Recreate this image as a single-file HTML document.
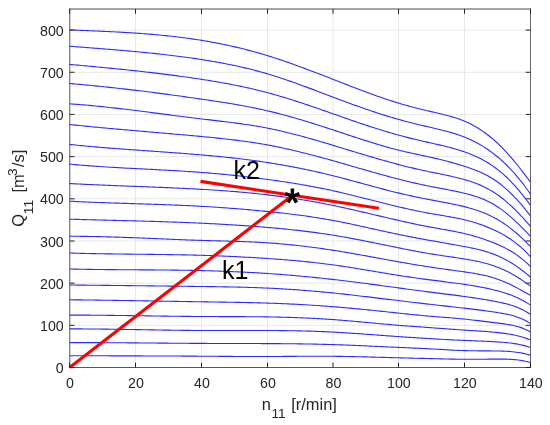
<!DOCTYPE html>
<html><head><meta charset="utf-8"><style>
html,body{margin:0;padding:0;background:#fff;}
body{width:550px;height:425px;overflow:hidden;}
svg{display:block;}
text{font-family:"Liberation Sans",sans-serif;fill:#262626;}
</style></head><body>
<svg width="550" height="425" viewBox="0 0 550 425">
<rect x="0" y="0" width="550" height="425" fill="#ffffff"/>
<g stroke="#e8e8e8" stroke-width="1" fill="none">
<line x1="135.5" y1="9.0" x2="135.5" y2="367.5"/>
<line x1="201.5" y1="9.0" x2="201.5" y2="367.5"/>
<line x1="267.5" y1="9.0" x2="267.5" y2="367.5"/>
<line x1="333.0" y1="9.0" x2="333.0" y2="367.5"/>
<line x1="398.5" y1="9.0" x2="398.5" y2="367.5"/>
<line x1="464.5" y1="9.0" x2="464.5" y2="367.5"/>
<line x1="69.7" y1="325.32" x2="530.5" y2="325.32"/>
<line x1="69.7" y1="283.15" x2="530.5" y2="283.15"/>
<line x1="69.7" y1="240.97" x2="530.5" y2="240.97"/>
<line x1="69.7" y1="198.80" x2="530.5" y2="198.80"/>
<line x1="69.7" y1="156.62" x2="530.5" y2="156.62"/>
<line x1="69.7" y1="114.44" x2="530.5" y2="114.44"/>
<line x1="69.7" y1="72.27" x2="530.5" y2="72.27"/>
<line x1="69.7" y1="30.09" x2="530.5" y2="30.09"/>
</g>
<g stroke="#2b2bff" stroke-width="1.1" fill="none" stroke-linejoin="round">
<polyline points="69.6,29.90 71.6,29.98 73.6,30.06 75.6,30.15 77.6,30.23 79.6,30.31 81.6,30.39 83.6,30.47 85.6,30.55 87.6,30.64 89.6,30.72 91.6,30.81 93.6,30.89 95.6,30.98 97.6,31.07 99.6,31.15 101.6,31.24 103.7,31.34 105.7,31.43 107.7,31.53 109.7,31.62 111.7,31.72 113.7,31.82 115.7,31.93 117.7,32.03 119.7,32.14 121.7,32.25 123.7,32.37 125.7,32.49 127.7,32.61 129.7,32.73 131.7,32.86 133.7,32.99 135.7,33.12 137.7,33.26 139.7,33.40 141.7,33.54 143.7,33.69 145.7,33.85 147.7,34.01 149.7,34.17 151.7,34.34 153.7,34.51 155.7,34.68 157.7,34.87 159.7,35.05 161.7,35.25 163.7,35.44 165.7,35.65 167.7,35.85 169.8,36.07 171.8,36.29 173.8,36.51 175.8,36.75 177.8,36.99 179.8,37.23 181.8,37.48 183.8,37.74 185.8,38.00 187.8,38.28 189.8,38.56 191.8,38.84 193.8,39.13 195.8,39.43 197.8,39.74 199.8,40.06 201.8,40.38 203.8,40.71 205.8,41.05 207.8,41.40 209.8,41.75 211.8,42.12 213.8,42.49 215.8,42.87 217.8,43.26 219.8,43.65 221.8,44.06 223.8,44.47 225.8,44.89 227.8,45.32 229.8,45.76 231.8,46.21 233.8,46.66 235.9,47.13 237.9,47.60 239.9,48.08 241.9,48.57 243.9,49.07 245.9,49.58 247.9,50.10 249.9,50.63 251.9,51.16 253.9,51.71 255.9,52.26 257.9,52.83 259.9,53.40 261.9,53.98 263.9,54.57 265.9,55.17 267.9,55.78 269.9,56.40 271.9,57.03 273.9,57.67 275.9,58.32 277.9,58.98 279.9,59.64 281.9,60.31 283.9,60.99 285.9,61.68 287.9,62.37 289.9,63.07 291.9,63.78 293.9,64.49 295.9,65.21 297.9,65.94 299.9,66.67 302.0,67.40 304.0,68.14 306.0,68.89 308.0,69.64 310.0,70.39 312.0,71.15 314.0,71.91 316.0,72.68 318.0,73.45 320.0,74.22 322.0,74.99 324.0,75.77 326.0,76.55 328.0,77.33 330.0,78.11 332.0,78.89 334.0,79.67 336.0,80.46 338.0,81.24 340.0,82.03 342.0,82.81 344.0,83.60 346.0,84.38 348.0,85.16 350.0,85.94 352.0,86.71 354.0,87.48 356.0,88.25 358.0,89.02 360.0,89.78 362.0,90.54 364.0,91.29 366.1,92.04 368.1,92.78 370.1,93.52 372.1,94.25 374.1,94.97 376.1,95.69 378.1,96.40 380.1,97.10 382.1,97.79 384.1,98.47 386.1,99.15 388.1,99.81 390.1,100.47 392.1,101.11 394.1,101.74 396.1,102.37 398.1,102.98 400.1,103.58 402.1,104.17 404.1,104.74 406.1,105.31 408.1,105.87 410.1,106.41 412.1,106.95 414.1,107.47 416.1,107.99 418.1,108.50 420.1,109.00 422.1,109.50 424.1,109.98 426.1,110.46 428.1,110.94 430.1,111.40 432.2,111.86 434.2,112.32 436.2,112.78 438.2,113.24 440.2,113.71 442.2,114.19 444.2,114.68 446.2,115.19 448.2,115.72 450.2,116.27 452.2,116.85 454.2,117.45 456.2,118.10 458.2,118.78 460.2,119.50 462.2,120.26 464.2,121.07 466.2,121.94 468.2,122.85 470.2,123.82 472.2,124.84 474.2,125.92 476.2,127.06 478.2,128.26 480.2,129.52 482.2,130.85 484.2,132.24 486.2,133.69 488.2,135.21 490.2,136.80 492.2,138.46 494.2,140.20 496.2,142.00 498.3,143.88 500.3,145.84 502.3,147.86 504.3,149.96 506.3,152.11 508.3,154.33 510.3,156.61 512.3,158.94 514.3,161.32 516.3,163.76 518.3,166.24 520.3,168.76 522.3,171.32 524.3,173.92 526.3,176.55 528.3,179.21 530.3,181.90"/>
<polyline points="69.6,46.20 71.6,46.36 73.6,46.52 75.6,46.68 77.6,46.83 79.6,46.99 81.6,47.15 83.6,47.31 85.6,47.46 87.6,47.62 89.6,47.78 91.6,47.93 93.6,48.09 95.6,48.25 97.6,48.41 99.6,48.57 101.6,48.73 103.7,48.89 105.7,49.05 107.7,49.21 109.7,49.37 111.7,49.54 113.7,49.70 115.7,49.87 117.7,50.04 119.7,50.21 121.7,50.38 123.7,50.55 125.7,50.73 127.7,50.90 129.7,51.08 131.7,51.26 133.7,51.44 135.7,51.63 137.7,51.81 139.7,52.00 141.7,52.20 143.7,52.39 145.7,52.59 147.7,52.79 149.7,52.99 151.7,53.20 153.7,53.41 155.7,53.62 157.7,53.83 159.7,54.05 161.7,54.27 163.7,54.50 165.7,54.73 167.7,54.96 169.8,55.20 171.8,55.44 173.8,55.68 175.8,55.93 177.8,56.19 179.8,56.44 181.8,56.70 183.8,56.97 185.8,57.24 187.8,57.52 189.8,57.80 191.8,58.08 193.8,58.37 195.8,58.66 197.8,58.96 199.8,59.27 201.8,59.58 203.8,59.89 205.8,60.21 207.8,60.54 209.8,60.87 211.8,61.21 213.8,61.56 215.8,61.91 217.8,62.27 219.8,62.63 221.8,63.01 223.8,63.39 225.8,63.77 227.8,64.17 229.8,64.57 231.8,64.98 233.8,65.40 235.9,65.83 237.9,66.27 239.9,66.71 241.9,67.17 243.9,67.63 245.9,68.10 247.9,68.58 249.9,69.08 251.9,69.58 253.9,70.09 255.9,70.61 257.9,71.15 259.9,71.69 261.9,72.25 263.9,72.81 265.9,73.39 267.9,73.98 269.9,74.58 271.9,75.19 273.9,75.81 275.9,76.44 277.9,77.09 279.9,77.74 281.9,78.40 283.9,79.07 285.9,79.75 287.9,80.43 289.9,81.13 291.9,81.83 293.9,82.53 295.9,83.25 297.9,83.97 299.9,84.69 302.0,85.42 304.0,86.16 306.0,86.89 308.0,87.64 310.0,88.38 312.0,89.13 314.0,89.88 316.0,90.64 318.0,91.40 320.0,92.15 322.0,92.91 324.0,93.67 326.0,94.43 328.0,95.19 330.0,95.95 332.0,96.71 334.0,97.46 336.0,98.22 338.0,98.97 340.0,99.72 342.0,100.47 344.0,101.22 346.0,101.96 348.0,102.70 350.0,103.44 352.0,104.17 354.0,104.90 356.0,105.62 358.0,106.34 360.0,107.05 362.0,107.76 364.0,108.46 366.1,109.16 368.1,109.85 370.1,110.53 372.1,111.21 374.1,111.88 376.1,112.54 378.1,113.20 380.1,113.85 382.1,114.49 384.1,115.12 386.1,115.74 388.1,116.36 390.1,116.96 392.1,117.56 394.1,118.15 396.1,118.72 398.1,119.29 400.1,119.84 402.1,120.39 404.1,120.92 406.1,121.45 408.1,121.97 410.1,122.48 412.1,122.98 414.1,123.48 416.1,123.97 418.1,124.46 420.1,124.94 422.1,125.42 424.1,125.89 426.1,126.36 428.1,126.83 430.1,127.30 432.2,127.77 434.2,128.24 436.2,128.71 438.2,129.18 440.2,129.67 442.2,130.16 444.2,130.67 446.2,131.19 448.2,131.73 450.2,132.29 452.2,132.87 454.2,133.48 456.2,134.12 458.2,134.78 460.2,135.48 462.2,136.21 464.2,136.98 466.2,137.79 468.2,138.64 470.2,139.54 472.2,140.47 474.2,141.46 476.2,142.49 478.2,143.57 480.2,144.71 482.2,145.89 484.2,147.13 486.2,148.42 488.2,149.78 490.2,151.19 492.2,152.66 494.2,154.19 496.2,155.78 498.3,157.45 500.3,159.17 502.3,160.97 504.3,162.83 506.3,164.76 508.3,166.77 510.3,168.85 512.3,171.00 514.3,173.23 516.3,175.53 518.3,177.91 520.3,180.37 522.3,182.91 524.3,185.53 526.3,188.24 528.3,191.03 530.3,193.90"/>
<polyline points="69.6,64.40 71.6,64.58 73.6,64.76 75.6,64.95 77.6,65.13 79.6,65.31 81.6,65.49 83.6,65.68 85.6,65.86 87.6,66.05 89.6,66.24 91.6,66.42 93.6,66.61 95.6,66.80 97.6,66.99 99.6,67.18 101.6,67.37 103.7,67.56 105.7,67.76 107.7,67.95 109.7,68.15 111.7,68.35 113.7,68.54 115.7,68.74 117.7,68.95 119.7,69.15 121.7,69.35 123.7,69.56 125.7,69.77 127.7,69.98 129.7,70.19 131.7,70.40 133.7,70.62 135.7,70.83 137.7,71.05 139.7,71.27 141.7,71.49 143.7,71.72 145.7,71.95 147.7,72.18 149.7,72.41 151.7,72.64 153.7,72.88 155.7,73.11 157.7,73.36 159.7,73.60 161.7,73.85 163.7,74.09 165.7,74.34 167.7,74.60 169.8,74.86 171.8,75.11 173.8,75.38 175.8,75.64 177.8,75.91 179.8,76.18 181.8,76.46 183.8,76.73 185.8,77.01 187.8,77.30 189.8,77.58 191.8,77.87 193.8,78.17 195.8,78.47 197.8,78.77 199.8,79.07 201.8,79.38 203.8,79.69 205.8,80.00 207.8,80.32 209.8,80.65 211.8,80.97 213.8,81.31 215.8,81.64 217.8,81.99 219.8,82.33 221.8,82.69 223.8,83.05 225.8,83.41 227.8,83.78 229.8,84.16 231.8,84.54 233.8,84.93 235.9,85.33 237.9,85.73 239.9,86.14 241.9,86.56 243.9,86.99 245.9,87.42 247.9,87.86 249.9,88.31 251.9,88.77 253.9,89.24 255.9,89.71 257.9,90.20 259.9,90.69 261.9,91.19 263.9,91.71 265.9,92.23 267.9,92.76 269.9,93.30 271.9,93.86 273.9,94.42 275.9,94.99 277.9,95.57 279.9,96.16 281.9,96.75 283.9,97.36 285.9,97.97 287.9,98.59 289.9,99.21 291.9,99.85 293.9,100.48 295.9,101.13 297.9,101.78 299.9,102.44 302.0,103.10 304.0,103.77 306.0,104.44 308.0,105.11 310.0,105.79 312.0,106.48 314.0,107.16 316.0,107.85 318.0,108.54 320.0,109.24 322.0,109.94 324.0,110.63 326.0,111.34 328.0,112.04 330.0,112.74 332.0,113.44 334.0,114.15 336.0,114.85 338.0,115.55 340.0,116.26 342.0,116.96 344.0,117.66 346.0,118.36 348.0,119.06 350.0,119.75 352.0,120.44 354.0,121.13 356.0,121.82 358.0,122.51 360.0,123.19 362.0,123.86 364.0,124.53 366.1,125.20 368.1,125.86 370.1,126.52 372.1,127.17 374.1,127.82 376.1,128.46 378.1,129.09 380.1,129.71 382.1,130.33 384.1,130.95 386.1,131.55 388.1,132.14 390.1,132.73 392.1,133.31 394.1,133.88 396.1,134.44 398.1,134.99 400.1,135.53 402.1,136.06 404.1,136.59 406.1,137.10 408.1,137.61 410.1,138.10 412.1,138.60 414.1,139.08 416.1,139.56 418.1,140.04 420.1,140.51 422.1,140.97 424.1,141.43 426.1,141.89 428.1,142.35 430.1,142.81 432.2,143.26 434.2,143.71 436.2,144.17 438.2,144.63 440.2,145.10 442.2,145.57 444.2,146.05 446.2,146.54 448.2,147.05 450.2,147.57 452.2,148.11 454.2,148.67 456.2,149.24 458.2,149.84 460.2,150.47 462.2,151.12 464.2,151.80 466.2,152.50 468.2,153.24 470.2,154.02 472.2,154.83 474.2,155.69 476.2,156.58 478.2,157.53 480.2,158.52 482.2,159.56 484.2,160.66 486.2,161.81 488.2,163.03 490.2,164.30 492.2,165.64 494.2,167.05 496.2,168.53 498.3,170.08 500.3,171.70 502.3,173.40 504.3,175.18 506.3,177.02 508.3,178.95 510.3,180.95 512.3,183.03 514.3,185.18 516.3,187.41 518.3,189.72 520.3,192.10 522.3,194.56 524.3,197.11 526.3,199.72 528.3,202.42 530.3,205.20"/>
<polyline points="69.6,83.50 71.6,83.67 73.6,83.84 75.6,84.02 77.6,84.20 79.6,84.38 81.6,84.56 83.6,84.75 85.6,84.93 87.6,85.12 89.6,85.32 91.6,85.51 93.6,85.71 95.6,85.91 97.6,86.11 99.6,86.31 101.6,86.52 103.7,86.73 105.7,86.94 107.7,87.15 109.7,87.36 111.7,87.58 113.7,87.80 115.7,88.02 117.7,88.24 119.7,88.47 121.7,88.69 123.7,88.92 125.7,89.15 127.7,89.39 129.7,89.62 131.7,89.86 133.7,90.10 135.7,90.34 137.7,90.58 139.7,90.82 141.7,91.07 143.7,91.32 145.7,91.57 147.7,91.82 149.7,92.07 151.7,92.32 153.7,92.58 155.7,92.84 157.7,93.10 159.7,93.36 161.7,93.62 163.7,93.88 165.7,94.15 167.7,94.42 169.8,94.69 171.8,94.96 173.8,95.23 175.8,95.50 177.8,95.78 179.8,96.05 181.8,96.33 183.8,96.61 185.8,96.89 187.8,97.17 189.8,97.45 191.8,97.74 193.8,98.02 195.8,98.31 197.8,98.59 199.8,98.88 201.8,99.17 203.8,99.46 205.8,99.76 207.8,100.05 209.8,100.35 211.8,100.65 213.8,100.95 215.8,101.25 217.8,101.56 219.8,101.87 221.8,102.18 223.8,102.50 225.8,102.82 227.8,103.14 229.8,103.47 231.8,103.81 233.8,104.15 235.9,104.49 237.9,104.84 239.9,105.20 241.9,105.56 243.9,105.93 245.9,106.31 247.9,106.69 249.9,107.08 251.9,107.47 253.9,107.88 255.9,108.29 257.9,108.71 259.9,109.14 261.9,109.58 263.9,110.02 265.9,110.48 267.9,110.94 269.9,111.41 271.9,111.90 273.9,112.39 275.9,112.89 277.9,113.40 279.9,113.92 281.9,114.44 283.9,114.97 285.9,115.52 287.9,116.06 289.9,116.62 291.9,117.18 293.9,117.75 295.9,118.33 297.9,118.91 299.9,119.50 302.0,120.09 304.0,120.70 306.0,121.30 308.0,121.91 310.0,122.53 312.0,123.15 314.0,123.77 316.0,124.40 318.0,125.04 320.0,125.68 322.0,126.32 324.0,126.96 326.0,127.61 328.0,128.26 330.0,128.92 332.0,129.57 334.0,130.23 336.0,130.89 338.0,131.55 340.0,132.22 342.0,132.88 344.0,133.55 346.0,134.21 348.0,134.88 350.0,135.54 352.0,136.20 354.0,136.86 356.0,137.52 358.0,138.17 360.0,138.82 362.0,139.47 364.0,140.12 366.1,140.75 368.1,141.39 370.1,142.02 372.1,142.64 374.1,143.26 376.1,143.87 378.1,144.47 380.1,145.06 382.1,145.65 384.1,146.23 386.1,146.80 388.1,147.36 390.1,147.91 392.1,148.45 394.1,148.98 396.1,149.49 398.1,150.00 400.1,150.49 402.1,150.98 404.1,151.45 406.1,151.92 408.1,152.37 410.1,152.82 412.1,153.27 414.1,153.71 416.1,154.14 418.1,154.58 420.1,155.01 422.1,155.45 424.1,155.88 426.1,156.32 428.1,156.76 430.1,157.21 432.2,157.66 434.2,158.12 436.2,158.59 438.2,159.06 440.2,159.55 442.2,160.04 444.2,160.54 446.2,161.05 448.2,161.57 450.2,162.11 452.2,162.65 454.2,163.21 456.2,163.78 458.2,164.37 460.2,164.96 462.2,165.58 464.2,166.20 466.2,166.85 468.2,167.51 470.2,168.20 472.2,168.91 474.2,169.65 476.2,170.43 478.2,171.25 480.2,172.12 482.2,173.03 484.2,173.99 486.2,175.00 488.2,176.08 490.2,177.22 492.2,178.43 494.2,179.71 496.2,181.07 498.3,182.51 500.3,184.02 502.3,185.62 504.3,187.30 506.3,189.05 508.3,190.88 510.3,192.79 512.3,194.76 514.3,196.81 516.3,198.94 518.3,201.13 520.3,203.39 522.3,205.72 524.3,208.12 526.3,210.58 528.3,213.11 530.3,215.70"/>
<polyline points="69.6,103.80 71.6,103.94 73.6,104.09 75.6,104.24 77.6,104.39 79.6,104.55 81.6,104.72 83.6,104.89 85.6,105.06 87.6,105.24 89.6,105.42 91.6,105.61 93.6,105.80 95.6,105.99 97.6,106.19 99.6,106.40 101.6,106.60 103.7,106.81 105.7,107.02 107.7,107.24 109.7,107.46 111.7,107.68 113.7,107.91 115.7,108.13 117.7,108.36 119.7,108.60 121.7,108.83 123.7,109.07 125.7,109.31 127.7,109.55 129.7,109.79 131.7,110.04 133.7,110.29 135.7,110.54 137.7,110.79 139.7,111.04 141.7,111.29 143.7,111.55 145.7,111.80 147.7,112.06 149.7,112.32 151.7,112.58 153.7,112.84 155.7,113.10 157.7,113.36 159.7,113.62 161.7,113.88 163.7,114.14 165.7,114.40 167.7,114.66 169.8,114.92 171.8,115.18 173.8,115.44 175.8,115.70 177.8,115.96 179.8,116.21 181.8,116.47 183.8,116.73 185.8,116.98 187.8,117.23 189.8,117.49 191.8,117.74 193.8,117.98 195.8,118.23 197.8,118.48 199.8,118.72 201.8,118.96 203.8,119.20 205.8,119.44 207.8,119.67 209.8,119.91 211.8,120.14 213.8,120.38 215.8,120.61 217.8,120.85 219.8,121.09 221.8,121.33 223.8,121.57 225.8,121.81 227.8,122.06 229.8,122.31 231.8,122.56 233.8,122.82 235.9,123.08 237.9,123.35 239.9,123.62 241.9,123.90 243.9,124.18 245.9,124.47 247.9,124.77 249.9,125.08 251.9,125.39 253.9,125.71 255.9,126.04 257.9,126.38 259.9,126.72 261.9,127.08 263.9,127.45 265.9,127.83 267.9,128.22 269.9,128.62 271.9,129.03 273.9,129.45 275.9,129.89 277.9,130.33 279.9,130.78 281.9,131.24 283.9,131.71 285.9,132.19 287.9,132.68 289.9,133.18 291.9,133.68 293.9,134.20 295.9,134.72 297.9,135.24 299.9,135.78 302.0,136.32 304.0,136.86 306.0,137.42 308.0,137.97 310.0,138.54 312.0,139.11 314.0,139.68 316.0,140.26 318.0,140.84 320.0,141.43 322.0,142.02 324.0,142.61 326.0,143.20 328.0,143.80 330.0,144.40 332.0,145.01 334.0,145.61 336.0,146.22 338.0,146.83 340.0,147.44 342.0,148.05 344.0,148.66 346.0,149.27 348.0,149.88 350.0,150.49 352.0,151.10 354.0,151.71 356.0,152.31 358.0,152.92 360.0,153.53 362.0,154.13 364.0,154.73 366.1,155.33 368.1,155.93 370.1,156.52 372.1,157.11 374.1,157.70 376.1,158.28 378.1,158.86 380.1,159.44 382.1,160.01 384.1,160.58 386.1,161.14 388.1,161.70 390.1,162.25 392.1,162.79 394.1,163.33 396.1,163.87 398.1,164.40 400.1,164.92 402.1,165.43 404.1,165.94 406.1,166.44 408.1,166.93 410.1,167.42 412.1,167.90 414.1,168.37 416.1,168.84 418.1,169.30 420.1,169.75 422.1,170.20 424.1,170.64 426.1,171.08 428.1,171.50 430.1,171.92 432.2,172.34 434.2,172.75 436.2,173.15 438.2,173.55 440.2,173.96 442.2,174.36 444.2,174.77 446.2,175.19 448.2,175.61 450.2,176.05 452.2,176.49 454.2,176.95 456.2,177.42 458.2,177.92 460.2,178.43 462.2,178.96 464.2,179.51 466.2,180.10 468.2,180.70 470.2,181.34 472.2,182.02 474.2,182.73 476.2,183.48 478.2,184.27 480.2,185.12 482.2,186.01 484.2,186.95 486.2,187.95 488.2,189.01 490.2,190.13 492.2,191.31 494.2,192.56 496.2,193.88 498.3,195.28 500.3,196.75 502.3,198.29 504.3,199.91 506.3,201.59 508.3,203.33 510.3,205.14 512.3,207.01 514.3,208.93 516.3,210.92 518.3,212.96 520.3,215.05 522.3,217.18 524.3,219.37 526.3,221.61 528.3,223.88 530.3,226.20"/>
<polyline points="69.6,124.50 71.6,124.71 73.6,124.92 75.6,125.13 77.6,125.34 79.6,125.54 81.6,125.75 83.6,125.95 85.6,126.15 87.6,126.35 89.6,126.54 91.6,126.74 93.6,126.93 95.6,127.12 97.6,127.31 99.6,127.50 101.6,127.69 103.7,127.87 105.7,128.06 107.7,128.24 109.7,128.43 111.7,128.61 113.7,128.79 115.7,128.97 117.7,129.15 119.7,129.33 121.7,129.50 123.7,129.68 125.7,129.86 127.7,130.03 129.7,130.21 131.7,130.38 133.7,130.55 135.7,130.73 137.7,130.90 139.7,131.07 141.7,131.24 143.7,131.42 145.7,131.59 147.7,131.76 149.7,131.93 151.7,132.10 153.7,132.27 155.7,132.45 157.7,132.62 159.7,132.79 161.7,132.96 163.7,133.14 165.7,133.31 167.7,133.48 169.8,133.66 171.8,133.83 173.8,134.01 175.8,134.18 177.8,134.36 179.8,134.54 181.8,134.71 183.8,134.89 185.8,135.07 187.8,135.25 189.8,135.43 191.8,135.62 193.8,135.80 195.8,135.99 197.8,136.17 199.8,136.36 201.8,136.55 203.8,136.74 205.8,136.93 207.8,137.12 209.8,137.32 211.8,137.52 213.8,137.72 215.8,137.92 217.8,138.13 219.8,138.34 221.8,138.55 223.8,138.77 225.8,138.99 227.8,139.22 229.8,139.45 231.8,139.68 233.8,139.92 235.9,140.17 237.9,140.42 239.9,140.68 241.9,140.94 243.9,141.21 245.9,141.48 247.9,141.76 249.9,142.05 251.9,142.35 253.9,142.65 255.9,142.97 257.9,143.29 259.9,143.61 261.9,143.95 263.9,144.29 265.9,144.65 267.9,145.01 269.9,145.38 271.9,145.76 273.9,146.15 275.9,146.55 277.9,146.96 279.9,147.37 281.9,147.80 283.9,148.23 285.9,148.67 287.9,149.11 289.9,149.57 291.9,150.03 293.9,150.50 295.9,150.97 297.9,151.45 299.9,151.94 302.0,152.43 304.0,152.93 306.0,153.44 308.0,153.95 310.0,154.46 312.0,154.98 314.0,155.51 316.0,156.04 318.0,156.58 320.0,157.12 322.0,157.66 324.0,158.21 326.0,158.76 328.0,159.31 330.0,159.87 332.0,160.43 334.0,161.00 336.0,161.57 338.0,162.14 340.0,162.71 342.0,163.28 344.0,163.86 346.0,164.43 348.0,165.01 350.0,165.59 352.0,166.17 354.0,166.75 356.0,167.33 358.0,167.91 360.0,168.49 362.0,169.06 364.0,169.64 366.1,170.22 368.1,170.79 370.1,171.36 372.1,171.93 374.1,172.50 376.1,173.06 378.1,173.62 380.1,174.18 382.1,174.73 384.1,175.28 386.1,175.83 388.1,176.37 390.1,176.91 392.1,177.44 394.1,177.96 396.1,178.48 398.1,179.00 400.1,179.51 402.1,180.01 404.1,180.50 406.1,180.99 408.1,181.48 410.1,181.95 412.1,182.42 414.1,182.88 416.1,183.34 418.1,183.79 420.1,184.23 422.1,184.67 424.1,185.09 426.1,185.51 428.1,185.93 430.1,186.33 432.2,186.73 434.2,187.12 436.2,187.50 438.2,187.89 440.2,188.26 442.2,188.64 444.2,189.02 446.2,189.41 448.2,189.79 450.2,190.19 452.2,190.59 454.2,191.00 456.2,191.41 458.2,191.85 460.2,192.29 462.2,192.75 464.2,193.23 466.2,193.72 468.2,194.24 470.2,194.78 472.2,195.35 474.2,195.96 476.2,196.60 478.2,197.28 480.2,198.01 482.2,198.79 484.2,199.62 486.2,200.51 488.2,201.45 490.2,202.46 492.2,203.54 494.2,204.69 496.2,205.92 498.3,207.23 500.3,208.61 502.3,210.07 504.3,211.60 506.3,213.19 508.3,214.85 510.3,216.57 512.3,218.34 514.3,220.17 516.3,222.04 518.3,223.95 520.3,225.90 522.3,227.89 524.3,229.90 526.3,231.95 528.3,234.01 530.3,236.10"/>
<polyline points="69.6,144.40 71.6,144.61 73.6,144.82 75.6,145.03 77.6,145.23 79.6,145.43 81.6,145.63 83.6,145.82 85.6,146.01 87.6,146.20 89.6,146.38 91.6,146.56 93.6,146.74 95.6,146.92 97.6,147.09 99.6,147.26 101.6,147.43 103.7,147.59 105.7,147.76 107.7,147.92 109.7,148.08 111.7,148.24 113.7,148.39 115.7,148.55 117.7,148.70 119.7,148.85 121.7,149.00 123.7,149.15 125.7,149.30 127.7,149.44 129.7,149.59 131.7,149.73 133.7,149.88 135.7,150.02 137.7,150.16 139.7,150.31 141.7,150.45 143.7,150.59 145.7,150.73 147.7,150.87 149.7,151.01 151.7,151.15 153.7,151.29 155.7,151.43 157.7,151.57 159.7,151.71 161.7,151.86 163.7,152.00 165.7,152.14 167.7,152.28 169.8,152.43 171.8,152.58 173.8,152.72 175.8,152.87 177.8,153.02 179.8,153.17 181.8,153.32 183.8,153.48 185.8,153.63 187.8,153.79 189.8,153.95 191.8,154.11 193.8,154.27 195.8,154.44 197.8,154.60 199.8,154.77 201.8,154.94 203.8,155.12 205.8,155.29 207.8,155.47 209.8,155.66 211.8,155.84 213.8,156.03 215.8,156.22 217.8,156.41 219.8,156.61 221.8,156.81 223.8,157.02 225.8,157.22 227.8,157.44 229.8,157.65 231.8,157.87 233.8,158.09 235.9,158.32 237.9,158.55 239.9,158.79 241.9,159.03 243.9,159.27 245.9,159.52 247.9,159.78 249.9,160.04 251.9,160.30 253.9,160.57 255.9,160.84 257.9,161.12 259.9,161.40 261.9,161.69 263.9,161.99 265.9,162.29 267.9,162.59 269.9,162.90 271.9,163.22 273.9,163.54 275.9,163.87 277.9,164.21 279.9,164.55 281.9,164.89 283.9,165.25 285.9,165.60 287.9,165.97 289.9,166.34 291.9,166.71 293.9,167.09 295.9,167.48 297.9,167.87 299.9,168.27 302.0,168.68 304.0,169.09 306.0,169.51 308.0,169.93 310.0,170.36 312.0,170.79 314.0,171.23 316.0,171.68 318.0,172.13 320.0,172.59 322.0,173.06 324.0,173.53 326.0,174.01 328.0,174.49 330.0,174.98 332.0,175.47 334.0,175.98 336.0,176.48 338.0,177.00 340.0,177.52 342.0,178.04 344.0,178.57 346.0,179.10 348.0,179.63 350.0,180.17 352.0,180.71 354.0,181.26 356.0,181.80 358.0,182.35 360.0,182.89 362.0,183.44 364.0,183.99 366.1,184.54 368.1,185.08 370.1,185.63 372.1,186.17 374.1,186.71 376.1,187.25 378.1,187.79 380.1,188.32 382.1,188.85 384.1,189.38 386.1,189.90 388.1,190.41 390.1,190.93 392.1,191.43 394.1,191.93 396.1,192.42 398.1,192.90 400.1,193.38 402.1,193.85 404.1,194.31 406.1,194.77 408.1,195.22 410.1,195.66 412.1,196.09 414.1,196.52 416.1,196.94 418.1,197.36 420.1,197.77 422.1,198.17 424.1,198.57 426.1,198.97 428.1,199.35 430.1,199.74 432.2,200.12 434.2,200.49 436.2,200.86 438.2,201.24 440.2,201.61 442.2,201.98 444.2,202.36 446.2,202.74 448.2,203.13 450.2,203.52 452.2,203.93 454.2,204.34 456.2,204.77 458.2,205.21 460.2,205.66 462.2,206.14 464.2,206.63 466.2,207.13 468.2,207.66 470.2,208.22 472.2,208.80 474.2,209.41 476.2,210.05 478.2,210.72 480.2,211.44 482.2,212.19 484.2,212.98 486.2,213.82 488.2,214.71 490.2,215.64 492.2,216.63 494.2,217.67 496.2,218.77 498.3,219.93 500.3,221.15 502.3,222.43 504.3,223.77 506.3,225.17 508.3,226.63 510.3,228.14 512.3,229.71 514.3,231.35 516.3,233.03 518.3,234.78 520.3,236.58 522.3,238.43 524.3,240.34 526.3,242.31 528.3,244.33 530.3,246.40"/>
<polyline points="69.6,164.10 71.6,164.29 73.6,164.48 75.6,164.67 77.6,164.84 79.6,165.02 81.6,165.19 83.6,165.35 85.6,165.52 87.6,165.67 89.6,165.83 91.6,165.98 93.6,166.13 95.6,166.27 97.6,166.41 99.6,166.54 101.6,166.68 103.7,166.81 105.7,166.94 107.7,167.06 109.7,167.19 111.7,167.31 113.7,167.42 115.7,167.54 117.7,167.65 119.7,167.77 121.7,167.88 123.7,167.99 125.7,168.09 127.7,168.20 129.7,168.31 131.7,168.41 133.7,168.51 135.7,168.62 137.7,168.72 139.7,168.82 141.7,168.92 143.7,169.02 145.7,169.12 147.7,169.22 149.7,169.32 151.7,169.42 153.7,169.52 155.7,169.63 157.7,169.73 159.7,169.83 161.7,169.94 163.7,170.04 165.7,170.15 167.7,170.26 169.8,170.37 171.8,170.48 173.8,170.59 175.8,170.71 177.8,170.83 179.8,170.94 181.8,171.07 183.8,171.19 185.8,171.32 187.8,171.45 189.8,171.58 191.8,171.71 193.8,171.85 195.8,171.99 197.8,172.14 199.8,172.29 201.8,172.44 203.8,172.59 205.8,172.75 207.8,172.92 209.8,173.08 211.8,173.25 213.8,173.43 215.8,173.61 217.8,173.79 219.8,173.97 221.8,174.16 223.8,174.35 225.8,174.55 227.8,174.75 229.8,174.95 231.8,175.16 233.8,175.37 235.9,175.58 237.9,175.80 239.9,176.02 241.9,176.25 243.9,176.48 245.9,176.71 247.9,176.94 249.9,177.18 251.9,177.42 253.9,177.67 255.9,177.92 257.9,178.17 259.9,178.42 261.9,178.68 263.9,178.95 265.9,179.21 267.9,179.48 269.9,179.75 271.9,180.03 273.9,180.31 275.9,180.59 277.9,180.88 279.9,181.17 281.9,181.47 283.9,181.77 285.9,182.07 287.9,182.38 289.9,182.69 291.9,183.01 293.9,183.33 295.9,183.66 297.9,183.99 299.9,184.33 302.0,184.67 304.0,185.02 306.0,185.37 308.0,185.73 310.0,186.10 312.0,186.47 314.0,186.84 316.0,187.22 318.0,187.61 320.0,188.01 322.0,188.41 324.0,188.82 326.0,189.23 328.0,189.65 330.0,190.08 332.0,190.51 334.0,190.96 336.0,191.40 338.0,191.86 340.0,192.32 342.0,192.79 344.0,193.26 346.0,193.74 348.0,194.22 350.0,194.71 352.0,195.20 354.0,195.70 356.0,196.19 358.0,196.69 360.0,197.20 362.0,197.70 364.0,198.21 366.1,198.72 368.1,199.23 370.1,199.73 372.1,200.24 374.1,200.75 376.1,201.26 378.1,201.77 380.1,202.28 382.1,202.78 384.1,203.28 386.1,203.78 388.1,204.28 390.1,204.77 392.1,205.26 394.1,205.75 396.1,206.23 398.1,206.71 400.1,207.18 402.1,207.64 404.1,208.10 406.1,208.56 408.1,209.00 410.1,209.45 412.1,209.88 414.1,210.31 416.1,210.73 418.1,211.14 420.1,211.55 422.1,211.94 424.1,212.33 426.1,212.71 428.1,213.09 430.1,213.45 432.2,213.80 434.2,214.15 436.2,214.49 438.2,214.82 440.2,215.16 442.2,215.49 444.2,215.83 446.2,216.17 448.2,216.51 450.2,216.87 452.2,217.23 454.2,217.60 456.2,217.99 458.2,218.40 460.2,218.82 462.2,219.26 464.2,219.73 466.2,220.22 468.2,220.73 470.2,221.27 472.2,221.84 474.2,222.43 476.2,223.05 478.2,223.70 480.2,224.39 482.2,225.10 484.2,225.84 486.2,226.62 488.2,227.43 490.2,228.28 492.2,229.16 494.2,230.08 496.2,231.03 498.3,232.02 500.3,233.06 502.3,234.14 504.3,235.27 506.3,236.45 508.3,237.70 510.3,239.01 512.3,240.38 514.3,241.83 516.3,243.36 518.3,244.97 520.3,246.66 522.3,248.45 524.3,250.33 526.3,252.32 528.3,254.40 530.3,256.60"/>
<polyline points="69.6,183.50 71.6,183.61 73.6,183.72 75.6,183.83 77.6,183.94 79.6,184.04 81.6,184.14 83.6,184.24 85.6,184.34 87.6,184.44 89.6,184.53 91.6,184.62 93.6,184.72 95.6,184.81 97.6,184.89 99.6,184.98 101.6,185.07 103.7,185.15 105.7,185.24 107.7,185.32 109.7,185.40 111.7,185.48 113.7,185.56 115.7,185.64 117.7,185.72 119.7,185.80 121.7,185.88 123.7,185.95 125.7,186.03 127.7,186.11 129.7,186.18 131.7,186.26 133.7,186.34 135.7,186.41 137.7,186.49 139.7,186.56 141.7,186.64 143.7,186.71 145.7,186.79 147.7,186.87 149.7,186.95 151.7,187.02 153.7,187.10 155.7,187.18 157.7,187.26 159.7,187.34 161.7,187.42 163.7,187.50 165.7,187.59 167.7,187.67 169.8,187.76 171.8,187.84 173.8,187.93 175.8,188.02 177.8,188.11 179.8,188.20 181.8,188.29 183.8,188.39 185.8,188.49 187.8,188.58 189.8,188.69 191.8,188.79 193.8,188.89 195.8,189.00 197.8,189.11 199.8,189.22 201.8,189.33 203.8,189.44 205.8,189.56 207.8,189.68 209.8,189.80 211.8,189.93 213.8,190.06 215.8,190.19 217.8,190.32 219.8,190.46 221.8,190.60 223.8,190.74 225.8,190.88 227.8,191.03 229.8,191.19 231.8,191.34 233.8,191.50 235.9,191.67 237.9,191.84 239.9,192.01 241.9,192.18 243.9,192.36 245.9,192.55 247.9,192.73 249.9,192.93 251.9,193.12 253.9,193.33 255.9,193.53 257.9,193.74 259.9,193.96 261.9,194.18 263.9,194.40 265.9,194.64 267.9,194.87 269.9,195.11 271.9,195.36 273.9,195.61 275.9,195.87 277.9,196.13 279.9,196.40 281.9,196.67 283.9,196.95 285.9,197.23 287.9,197.52 289.9,197.81 291.9,198.11 293.9,198.42 295.9,198.73 297.9,199.04 299.9,199.36 302.0,199.69 304.0,200.02 306.0,200.36 308.0,200.70 310.0,201.05 312.0,201.40 314.0,201.76 316.0,202.12 318.0,202.49 320.0,202.87 322.0,203.25 324.0,203.63 326.0,204.03 328.0,204.42 330.0,204.82 332.0,205.23 334.0,205.65 336.0,206.06 338.0,206.49 340.0,206.92 342.0,207.35 344.0,207.79 346.0,208.23 348.0,208.68 350.0,209.12 352.0,209.58 354.0,210.03 356.0,210.49 358.0,210.95 360.0,211.42 362.0,211.88 364.0,212.35 366.1,212.82 368.1,213.29 370.1,213.76 372.1,214.23 374.1,214.70 376.1,215.17 378.1,215.65 380.1,216.12 382.1,216.59 384.1,217.06 386.1,217.53 388.1,218.00 390.1,218.46 392.1,218.93 394.1,219.39 396.1,219.85 398.1,220.31 400.1,220.76 402.1,221.21 404.1,221.66 406.1,222.11 408.1,222.55 410.1,222.98 412.1,223.41 414.1,223.84 416.1,224.26 418.1,224.68 420.1,225.09 422.1,225.49 424.1,225.89 426.1,226.28 428.1,226.66 430.1,227.04 432.2,227.41 434.2,227.78 436.2,228.13 438.2,228.49 440.2,228.84 442.2,229.20 444.2,229.55 446.2,229.91 448.2,230.27 450.2,230.64 452.2,231.02 454.2,231.41 456.2,231.80 458.2,232.21 460.2,232.63 462.2,233.07 464.2,233.53 466.2,234.01 468.2,234.50 470.2,235.01 472.2,235.55 474.2,236.11 476.2,236.69 478.2,237.29 480.2,237.92 482.2,238.57 484.2,239.25 486.2,239.95 488.2,240.68 490.2,241.44 492.2,242.22 494.2,243.03 496.2,243.88 498.3,244.75 500.3,245.65 502.3,246.60 504.3,247.58 506.3,248.62 508.3,249.70 510.3,250.84 512.3,252.05 514.3,253.32 516.3,254.66 518.3,256.07 520.3,257.56 522.3,259.14 524.3,260.81 526.3,262.57 528.3,264.44 530.3,266.40"/>
<polyline points="69.6,201.20 71.6,201.30 73.6,201.41 75.6,201.50 77.6,201.60 79.6,201.70 81.6,201.79 83.6,201.88 85.6,201.96 87.6,202.05 89.6,202.13 91.6,202.21 93.6,202.29 95.6,202.37 97.6,202.45 99.6,202.52 101.6,202.60 103.7,202.67 105.7,202.74 107.7,202.81 109.7,202.88 111.7,202.95 113.7,203.01 115.7,203.08 117.7,203.14 119.7,203.21 121.7,203.27 123.7,203.34 125.7,203.40 127.7,203.46 129.7,203.52 131.7,203.59 133.7,203.65 135.7,203.71 137.7,203.77 139.7,203.83 141.7,203.90 143.7,203.96 145.7,204.02 147.7,204.09 149.7,204.15 151.7,204.22 153.7,204.28 155.7,204.35 157.7,204.42 159.7,204.49 161.7,204.56 163.7,204.63 165.7,204.70 167.7,204.77 169.8,204.85 171.8,204.93 173.8,205.01 175.8,205.09 177.8,205.17 179.8,205.25 181.8,205.34 183.8,205.43 185.8,205.52 187.8,205.61 189.8,205.70 191.8,205.80 193.8,205.90 195.8,206.00 197.8,206.11 199.8,206.22 201.8,206.33 203.8,206.44 205.8,206.56 207.8,206.68 209.8,206.80 211.8,206.93 213.8,207.05 215.8,207.18 217.8,207.32 219.8,207.45 221.8,207.59 223.8,207.74 225.8,207.88 227.8,208.03 229.8,208.18 231.8,208.33 233.8,208.49 235.9,208.65 237.9,208.81 239.9,208.97 241.9,209.14 243.9,209.31 245.9,209.48 247.9,209.66 249.9,209.84 251.9,210.02 253.9,210.20 255.9,210.39 257.9,210.58 259.9,210.77 261.9,210.96 263.9,211.16 265.9,211.36 267.9,211.56 269.9,211.77 271.9,211.97 273.9,212.18 275.9,212.40 277.9,212.61 279.9,212.83 281.9,213.06 283.9,213.29 285.9,213.52 287.9,213.75 289.9,213.99 291.9,214.24 293.9,214.48 295.9,214.74 297.9,215.00 299.9,215.26 302.0,215.53 304.0,215.80 306.0,216.08 308.0,216.36 310.0,216.65 312.0,216.95 314.0,217.25 316.0,217.56 318.0,217.87 320.0,218.19 322.0,218.52 324.0,218.85 326.0,219.19 328.0,219.54 330.0,219.90 332.0,220.26 334.0,220.63 336.0,221.01 338.0,221.39 340.0,221.78 342.0,222.18 344.0,222.59 346.0,222.99 348.0,223.41 350.0,223.83 352.0,224.25 354.0,224.68 356.0,225.11 358.0,225.54 360.0,225.98 362.0,226.42 364.0,226.86 366.1,227.31 368.1,227.75 370.1,228.20 372.1,228.64 374.1,229.09 376.1,229.54 378.1,229.98 380.1,230.43 382.1,230.87 384.1,231.31 386.1,231.75 388.1,232.19 390.1,232.62 392.1,233.05 394.1,233.48 396.1,233.90 398.1,234.32 400.1,234.73 402.1,235.14 404.1,235.54 406.1,235.94 408.1,236.34 410.1,236.73 412.1,237.11 414.1,237.50 416.1,237.88 418.1,238.25 420.1,238.63 422.1,239.00 424.1,239.36 426.1,239.73 428.1,240.09 430.1,240.45 432.2,240.81 434.2,241.16 436.2,241.51 438.2,241.87 440.2,242.22 442.2,242.57 444.2,242.92 446.2,243.28 448.2,243.63 450.2,243.99 452.2,244.34 454.2,244.70 456.2,245.06 458.2,245.43 460.2,245.80 462.2,246.17 464.2,246.54 466.2,246.92 468.2,247.31 470.2,247.71 472.2,248.12 474.2,248.55 476.2,248.99 478.2,249.46 480.2,249.96 482.2,250.48 484.2,251.03 486.2,251.62 488.2,252.25 490.2,252.91 492.2,253.62 494.2,254.38 496.2,255.18 498.3,256.04 500.3,256.95 502.3,257.92 504.3,258.94 506.3,260.01 508.3,261.13 510.3,262.31 512.3,263.54 514.3,264.82 516.3,266.16 518.3,267.55 520.3,268.99 522.3,270.49 524.3,272.04 526.3,273.64 528.3,275.29 530.3,277.00"/>
<polyline points="69.6,219.20 71.6,219.26 73.6,219.31 75.6,219.36 77.6,219.42 79.6,219.47 81.6,219.52 83.6,219.58 85.6,219.63 87.6,219.68 89.6,219.73 91.6,219.78 93.6,219.83 95.6,219.88 97.6,219.94 99.6,219.99 101.6,220.04 103.7,220.09 105.7,220.14 107.7,220.19 109.7,220.24 111.7,220.29 113.7,220.34 115.7,220.39 117.7,220.44 119.7,220.49 121.7,220.54 123.7,220.59 125.7,220.64 127.7,220.70 129.7,220.75 131.7,220.80 133.7,220.85 135.7,220.91 137.7,220.96 139.7,221.02 141.7,221.07 143.7,221.13 145.7,221.19 147.7,221.25 149.7,221.30 151.7,221.36 153.7,221.42 155.7,221.49 157.7,221.55 159.7,221.61 161.7,221.67 163.7,221.74 165.7,221.81 167.7,221.87 169.8,221.94 171.8,222.01 173.8,222.08 175.8,222.15 177.8,222.23 179.8,222.30 181.8,222.38 183.8,222.46 185.8,222.54 187.8,222.62 189.8,222.70 191.8,222.78 193.8,222.87 195.8,222.95 197.8,223.04 199.8,223.13 201.8,223.22 203.8,223.32 205.8,223.41 207.8,223.51 209.8,223.61 211.8,223.71 213.8,223.81 215.8,223.92 217.8,224.02 219.8,224.13 221.8,224.24 223.8,224.36 225.8,224.47 227.8,224.59 229.8,224.71 231.8,224.83 233.8,224.96 235.9,225.08 237.9,225.21 239.9,225.34 241.9,225.48 243.9,225.61 245.9,225.75 247.9,225.89 249.9,226.04 251.9,226.18 253.9,226.33 255.9,226.48 257.9,226.64 259.9,226.79 261.9,226.95 263.9,227.12 265.9,227.28 267.9,227.45 269.9,227.62 271.9,227.80 273.9,227.97 275.9,228.15 277.9,228.34 279.9,228.53 281.9,228.72 283.9,228.91 285.9,229.11 287.9,229.31 289.9,229.52 291.9,229.73 293.9,229.95 295.9,230.17 297.9,230.39 299.9,230.62 302.0,230.85 304.0,231.09 306.0,231.33 308.0,231.58 310.0,231.83 312.0,232.09 314.0,232.36 316.0,232.63 318.0,232.90 320.0,233.18 322.0,233.47 324.0,233.76 326.0,234.06 328.0,234.36 330.0,234.67 332.0,234.99 334.0,235.31 336.0,235.64 338.0,235.98 340.0,236.32 342.0,236.67 344.0,237.02 346.0,237.38 348.0,237.75 350.0,238.11 352.0,238.49 354.0,238.86 356.0,239.24 358.0,239.63 360.0,240.02 362.0,240.41 364.0,240.80 366.1,241.20 368.1,241.60 370.1,242.00 372.1,242.40 374.1,242.81 376.1,243.22 378.1,243.62 380.1,244.03 382.1,244.44 384.1,244.85 386.1,245.26 388.1,245.67 390.1,246.08 392.1,246.49 394.1,246.90 396.1,247.31 398.1,247.72 400.1,248.12 402.1,248.53 404.1,248.93 406.1,249.33 408.1,249.72 410.1,250.12 412.1,250.50 414.1,250.89 416.1,251.27 418.1,251.64 420.1,252.01 422.1,252.37 424.1,252.73 426.1,253.08 428.1,253.42 430.1,253.76 432.2,254.09 434.2,254.41 436.2,254.72 438.2,255.03 440.2,255.33 442.2,255.63 444.2,255.93 446.2,256.22 448.2,256.52 450.2,256.81 452.2,257.11 454.2,257.40 456.2,257.70 458.2,258.01 460.2,258.32 462.2,258.63 464.2,258.95 466.2,259.28 468.2,259.62 470.2,259.97 472.2,260.33 474.2,260.71 476.2,261.11 478.2,261.54 480.2,261.98 482.2,262.46 484.2,262.96 486.2,263.49 488.2,264.06 490.2,264.66 492.2,265.31 494.2,265.99 496.2,266.72 498.3,267.49 500.3,268.31 502.3,269.17 504.3,270.08 506.3,271.04 508.3,272.04 510.3,273.09 512.3,274.19 514.3,275.33 516.3,276.52 518.3,277.75 520.3,279.03 522.3,280.35 524.3,281.72 526.3,283.14 528.3,284.60 530.3,286.10"/>
<polyline points="69.6,236.30 71.6,236.30 73.6,236.30 75.6,236.30 77.6,236.31 79.6,236.32 81.6,236.34 83.6,236.36 85.6,236.38 87.6,236.41 89.6,236.44 91.6,236.47 93.6,236.51 95.6,236.54 97.6,236.59 99.6,236.63 101.6,236.68 103.7,236.73 105.7,236.78 107.7,236.84 109.7,236.89 111.7,236.95 113.7,237.02 115.7,237.08 117.7,237.15 119.7,237.21 121.7,237.28 123.7,237.35 125.7,237.43 127.7,237.50 129.7,237.58 131.7,237.65 133.7,237.73 135.7,237.81 137.7,237.89 139.7,237.97 141.7,238.06 143.7,238.14 145.7,238.22 147.7,238.31 149.7,238.39 151.7,238.47 153.7,238.56 155.7,238.64 157.7,238.73 159.7,238.81 161.7,238.90 163.7,238.98 165.7,239.07 167.7,239.15 169.8,239.23 171.8,239.32 173.8,239.40 175.8,239.48 177.8,239.56 179.8,239.64 181.8,239.72 183.8,239.79 185.8,239.87 187.8,239.94 189.8,240.02 191.8,240.09 193.8,240.16 195.8,240.22 197.8,240.29 199.8,240.35 201.8,240.42 203.8,240.47 205.8,240.53 207.8,240.59 209.8,240.64 211.8,240.70 213.8,240.75 215.8,240.80 217.8,240.86 219.8,240.91 221.8,240.96 223.8,241.01 225.8,241.07 227.8,241.12 229.8,241.18 231.8,241.24 233.8,241.30 235.9,241.36 237.9,241.42 239.9,241.49 241.9,241.56 243.9,241.63 245.9,241.71 247.9,241.79 249.9,241.87 251.9,241.96 253.9,242.05 255.9,242.15 257.9,242.25 259.9,242.35 261.9,242.47 263.9,242.59 265.9,242.71 267.9,242.84 269.9,242.98 271.9,243.12 273.9,243.27 275.9,243.42 277.9,243.59 279.9,243.75 281.9,243.93 283.9,244.11 285.9,244.30 287.9,244.49 289.9,244.68 291.9,244.89 293.9,245.10 295.9,245.31 297.9,245.53 299.9,245.76 302.0,245.99 304.0,246.23 306.0,246.47 308.0,246.72 310.0,246.97 312.0,247.23 314.0,247.50 316.0,247.77 318.0,248.04 320.0,248.32 322.0,248.60 324.0,248.89 326.0,249.19 328.0,249.49 330.0,249.79 332.0,250.10 334.0,250.41 336.0,250.73 338.0,251.05 340.0,251.38 342.0,251.71 344.0,252.04 346.0,252.38 348.0,252.72 350.0,253.06 352.0,253.41 354.0,253.76 356.0,254.11 358.0,254.46 360.0,254.82 362.0,255.18 364.0,255.54 366.1,255.90 368.1,256.26 370.1,256.63 372.1,256.99 374.1,257.36 376.1,257.72 378.1,258.09 380.1,258.46 382.1,258.82 384.1,259.19 386.1,259.55 388.1,259.92 390.1,260.28 392.1,260.65 394.1,261.01 396.1,261.37 398.1,261.73 400.1,262.09 402.1,262.44 404.1,262.79 406.1,263.14 408.1,263.49 410.1,263.83 412.1,264.18 414.1,264.51 416.1,264.85 418.1,265.18 420.1,265.51 422.1,265.83 424.1,266.15 426.1,266.46 428.1,266.77 430.1,267.07 432.2,267.37 434.2,267.66 436.2,267.95 438.2,268.24 440.2,268.52 442.2,268.80 444.2,269.08 446.2,269.35 448.2,269.63 450.2,269.90 452.2,270.18 454.2,270.45 456.2,270.73 458.2,271.01 460.2,271.29 462.2,271.57 464.2,271.86 466.2,272.15 468.2,272.44 470.2,272.75 472.2,273.07 474.2,273.40 476.2,273.75 478.2,274.12 480.2,274.51 482.2,274.92 484.2,275.36 486.2,275.83 488.2,276.34 490.2,276.88 492.2,277.46 494.2,278.08 496.2,278.74 498.3,279.45 500.3,280.20 502.3,281.00 504.3,281.83 506.3,282.71 508.3,283.62 510.3,284.56 512.3,285.54 514.3,286.54 516.3,287.57 518.3,288.62 520.3,289.70 522.3,290.79 524.3,291.90 526.3,293.02 528.3,294.16 530.3,295.30"/>
<polyline points="69.6,253.00 71.6,253.06 73.6,253.12 75.6,253.18 77.6,253.24 79.6,253.29 81.6,253.35 83.6,253.40 85.6,253.44 87.6,253.49 89.6,253.53 91.6,253.58 93.6,253.62 95.6,253.66 97.6,253.69 99.6,253.73 101.6,253.76 103.7,253.80 105.7,253.83 107.7,253.86 109.7,253.89 111.7,253.92 113.7,253.94 115.7,253.97 117.7,254.00 119.7,254.02 121.7,254.05 123.7,254.07 125.7,254.09 127.7,254.12 129.7,254.14 131.7,254.16 133.7,254.18 135.7,254.20 137.7,254.22 139.7,254.25 141.7,254.27 143.7,254.29 145.7,254.31 147.7,254.33 149.7,254.36 151.7,254.38 153.7,254.40 155.7,254.43 157.7,254.45 159.7,254.48 161.7,254.50 163.7,254.53 165.7,254.56 167.7,254.59 169.8,254.62 171.8,254.65 173.8,254.68 175.8,254.72 177.8,254.75 179.8,254.79 181.8,254.83 183.8,254.87 185.8,254.91 187.8,254.95 189.8,255.00 191.8,255.05 193.8,255.10 195.8,255.15 197.8,255.20 199.8,255.26 201.8,255.31 203.8,255.38 205.8,255.44 207.8,255.50 209.8,255.57 211.8,255.64 213.8,255.71 215.8,255.79 217.8,255.87 219.8,255.94 221.8,256.03 223.8,256.11 225.8,256.20 227.8,256.29 229.8,256.38 231.8,256.47 233.8,256.57 235.9,256.66 237.9,256.76 239.9,256.87 241.9,256.97 243.9,257.08 245.9,257.19 247.9,257.30 249.9,257.41 251.9,257.53 253.9,257.65 255.9,257.77 257.9,257.89 259.9,258.02 261.9,258.14 263.9,258.27 265.9,258.41 267.9,258.54 269.9,258.68 271.9,258.82 273.9,258.96 275.9,259.10 277.9,259.25 279.9,259.40 281.9,259.55 283.9,259.71 285.9,259.87 287.9,260.03 289.9,260.20 291.9,260.37 293.9,260.54 295.9,260.72 297.9,260.90 299.9,261.08 302.0,261.27 304.0,261.47 306.0,261.67 308.0,261.87 310.0,262.08 312.0,262.29 314.0,262.51 316.0,262.74 318.0,262.96 320.0,263.20 322.0,263.44 324.0,263.68 326.0,263.93 328.0,264.19 330.0,264.45 332.0,264.72 334.0,265.00 336.0,265.28 338.0,265.57 340.0,265.86 342.0,266.16 344.0,266.46 346.0,266.77 348.0,267.08 350.0,267.40 352.0,267.72 354.0,268.04 356.0,268.36 358.0,268.69 360.0,269.02 362.0,269.36 364.0,269.69 366.1,270.03 368.1,270.36 370.1,270.70 372.1,271.04 374.1,271.38 376.1,271.72 378.1,272.06 380.1,272.39 382.1,272.73 384.1,273.06 386.1,273.40 388.1,273.73 390.1,274.06 392.1,274.38 394.1,274.70 396.1,275.02 398.1,275.34 400.1,275.65 402.1,275.96 404.1,276.26 406.1,276.56 408.1,276.85 410.1,277.15 412.1,277.43 414.1,277.72 416.1,278.00 418.1,278.28 420.1,278.56 422.1,278.83 424.1,279.10 426.1,279.36 428.1,279.63 430.1,279.89 432.2,280.15 434.2,280.41 436.2,280.66 438.2,280.91 440.2,281.17 442.2,281.42 444.2,281.67 446.2,281.93 448.2,282.19 450.2,282.44 452.2,282.71 454.2,282.97 456.2,283.24 458.2,283.51 460.2,283.79 462.2,284.07 464.2,284.36 466.2,284.65 468.2,284.95 470.2,285.26 472.2,285.58 474.2,285.91 476.2,286.25 478.2,286.60 480.2,286.97 482.2,287.35 484.2,287.75 486.2,288.16 488.2,288.59 490.2,289.04 492.2,289.51 494.2,289.99 496.2,290.50 498.3,291.03 500.3,291.59 502.3,292.17 504.3,292.79 506.3,293.44 508.3,294.12 510.3,294.84 512.3,295.61 514.3,296.42 516.3,297.28 518.3,298.19 520.3,299.16 522.3,300.18 524.3,301.26 526.3,302.41 528.3,303.62 530.3,304.90"/>
<polyline points="69.6,269.00 71.6,269.05 73.6,269.09 75.6,269.13 77.6,269.17 79.6,269.21 81.6,269.25 83.6,269.29 85.6,269.32 87.6,269.35 89.6,269.38 91.6,269.41 93.6,269.44 95.6,269.46 97.6,269.49 99.6,269.51 101.6,269.54 103.7,269.56 105.7,269.58 107.7,269.60 109.7,269.61 111.7,269.63 113.7,269.65 115.7,269.67 117.7,269.68 119.7,269.70 121.7,269.71 123.7,269.72 125.7,269.74 127.7,269.75 129.7,269.76 131.7,269.78 133.7,269.79 135.7,269.80 137.7,269.81 139.7,269.83 141.7,269.84 143.7,269.85 145.7,269.87 147.7,269.88 149.7,269.89 151.7,269.91 153.7,269.92 155.7,269.94 157.7,269.96 159.7,269.97 161.7,269.99 163.7,270.01 165.7,270.03 167.7,270.05 169.8,270.07 171.8,270.09 173.8,270.12 175.8,270.14 177.8,270.17 179.8,270.20 181.8,270.23 183.8,270.26 185.8,270.29 187.8,270.32 189.8,270.36 191.8,270.40 193.8,270.44 195.8,270.48 197.8,270.52 199.8,270.56 201.8,270.61 203.8,270.66 205.8,270.71 207.8,270.77 209.8,270.82 211.8,270.88 213.8,270.94 215.8,271.00 217.8,271.07 219.8,271.14 221.8,271.21 223.8,271.28 225.8,271.35 227.8,271.43 229.8,271.51 231.8,271.59 233.8,271.68 235.9,271.77 237.9,271.86 239.9,271.95 241.9,272.04 243.9,272.14 245.9,272.24 247.9,272.35 249.9,272.45 251.9,272.56 253.9,272.67 255.9,272.79 257.9,272.91 259.9,273.03 261.9,273.15 263.9,273.28 265.9,273.41 267.9,273.54 269.9,273.68 271.9,273.81 273.9,273.96 275.9,274.10 277.9,274.25 279.9,274.40 281.9,274.55 283.9,274.71 285.9,274.87 287.9,275.03 289.9,275.20 291.9,275.37 293.9,275.54 295.9,275.72 297.9,275.89 299.9,276.07 302.0,276.26 304.0,276.44 306.0,276.63 308.0,276.82 310.0,277.02 312.0,277.22 314.0,277.42 316.0,277.62 318.0,277.83 320.0,278.04 322.0,278.25 324.0,278.46 326.0,278.68 328.0,278.90 330.0,279.13 332.0,279.35 334.0,279.58 336.0,279.81 338.0,280.05 340.0,280.28 342.0,280.52 344.0,280.76 346.0,281.01 348.0,281.25 350.0,281.50 352.0,281.75 354.0,282.00 356.0,282.26 358.0,282.51 360.0,282.77 362.0,283.03 364.0,283.29 366.1,283.55 368.1,283.81 370.1,284.08 372.1,284.34 374.1,284.61 376.1,284.88 378.1,285.14 380.1,285.41 382.1,285.68 384.1,285.95 386.1,286.22 388.1,286.49 390.1,286.76 392.1,287.03 394.1,287.30 396.1,287.57 398.1,287.85 400.1,288.12 402.1,288.39 404.1,288.66 406.1,288.93 408.1,289.20 410.1,289.46 412.1,289.73 414.1,290.00 416.1,290.26 418.1,290.53 420.1,290.79 422.1,291.06 424.1,291.32 426.1,291.58 428.1,291.83 430.1,292.09 432.2,292.35 434.2,292.60 436.2,292.85 438.2,293.10 440.2,293.36 442.2,293.61 444.2,293.86 446.2,294.11 448.2,294.36 450.2,294.62 452.2,294.87 454.2,295.13 456.2,295.39 458.2,295.65 460.2,295.92 462.2,296.19 464.2,296.46 466.2,296.74 468.2,297.02 470.2,297.30 472.2,297.59 474.2,297.89 476.2,298.19 478.2,298.50 480.2,298.82 482.2,299.14 484.2,299.48 486.2,299.82 488.2,300.16 490.2,300.52 492.2,300.89 494.2,301.27 496.2,301.65 498.3,302.05 500.3,302.46 502.3,302.89 504.3,303.35 506.3,303.84 508.3,304.37 510.3,304.94 512.3,305.56 514.3,306.24 516.3,306.97 518.3,307.77 520.3,308.65 522.3,309.60 524.3,310.63 526.3,311.76 528.3,312.98 530.3,314.30"/>
<polyline points="69.6,285.00 71.6,285.02 73.6,285.04 75.6,285.06 77.6,285.08 79.6,285.10 81.6,285.12 83.6,285.14 85.6,285.16 87.6,285.19 89.6,285.21 91.6,285.23 93.6,285.25 95.6,285.27 97.6,285.29 99.6,285.31 101.6,285.33 103.7,285.35 105.7,285.37 107.7,285.40 109.7,285.42 111.7,285.44 113.7,285.46 115.7,285.48 117.7,285.50 119.7,285.53 121.7,285.55 123.7,285.57 125.7,285.59 127.7,285.61 129.7,285.64 131.7,285.66 133.7,285.68 135.7,285.70 137.7,285.73 139.7,285.75 141.7,285.77 143.7,285.79 145.7,285.82 147.7,285.84 149.7,285.86 151.7,285.89 153.7,285.91 155.7,285.93 157.7,285.96 159.7,285.98 161.7,286.00 163.7,286.03 165.7,286.05 167.7,286.08 169.8,286.10 171.8,286.13 173.8,286.15 175.8,286.17 177.8,286.20 179.8,286.22 181.8,286.25 183.8,286.27 185.8,286.30 187.8,286.32 189.8,286.35 191.8,286.38 193.8,286.40 195.8,286.43 197.8,286.45 199.8,286.48 201.8,286.51 203.8,286.53 205.8,286.56 207.8,286.59 209.8,286.62 211.8,286.64 213.8,286.67 215.8,286.70 217.8,286.73 219.8,286.77 221.8,286.80 223.8,286.83 225.8,286.87 227.8,286.91 229.8,286.94 231.8,286.98 233.8,287.03 235.9,287.07 237.9,287.12 239.9,287.17 241.9,287.22 243.9,287.27 245.9,287.32 247.9,287.38 249.9,287.44 251.9,287.51 253.9,287.57 255.9,287.64 257.9,287.71 259.9,287.79 261.9,287.87 263.9,287.95 265.9,288.04 267.9,288.13 269.9,288.22 271.9,288.32 273.9,288.42 275.9,288.52 277.9,288.63 279.9,288.74 281.9,288.86 283.9,288.98 285.9,289.10 287.9,289.23 289.9,289.36 291.9,289.49 293.9,289.63 295.9,289.77 297.9,289.91 299.9,290.06 302.0,290.21 304.0,290.36 306.0,290.52 308.0,290.68 310.0,290.84 312.0,291.01 314.0,291.18 316.0,291.36 318.0,291.53 320.0,291.71 322.0,291.90 324.0,292.09 326.0,292.28 328.0,292.47 330.0,292.67 332.0,292.87 334.0,293.07 336.0,293.28 338.0,293.49 340.0,293.70 342.0,293.92 344.0,294.13 346.0,294.35 348.0,294.58 350.0,294.80 352.0,295.03 354.0,295.26 356.0,295.49 358.0,295.72 360.0,295.95 362.0,296.19 364.0,296.43 366.1,296.67 368.1,296.90 370.1,297.15 372.1,297.39 374.1,297.63 376.1,297.87 378.1,298.12 380.1,298.36 382.1,298.60 384.1,298.85 386.1,299.09 388.1,299.34 390.1,299.58 392.1,299.82 394.1,300.07 396.1,300.31 398.1,300.55 400.1,300.79 402.1,301.03 404.1,301.27 406.1,301.51 408.1,301.75 410.1,301.99 412.1,302.22 414.1,302.46 416.1,302.69 418.1,302.92 420.1,303.16 422.1,303.39 424.1,303.62 426.1,303.85 428.1,304.08 430.1,304.30 432.2,304.53 434.2,304.76 436.2,304.98 438.2,305.21 440.2,305.43 442.2,305.65 444.2,305.88 446.2,306.10 448.2,306.33 450.2,306.55 452.2,306.78 454.2,307.01 456.2,307.24 458.2,307.47 460.2,307.70 462.2,307.93 464.2,308.16 466.2,308.40 468.2,308.64 470.2,308.88 472.2,309.13 474.2,309.37 476.2,309.63 478.2,309.88 480.2,310.14 482.2,310.40 484.2,310.67 486.2,310.94 488.2,311.22 490.2,311.50 492.2,311.79 494.2,312.08 496.2,312.39 498.3,312.69 500.3,313.01 502.3,313.35 504.3,313.70 506.3,314.09 508.3,314.52 510.3,314.98 512.3,315.50 514.3,316.07 516.3,316.70 518.3,317.40 520.3,318.18 522.3,319.04 524.3,319.98 526.3,321.02 528.3,322.16 530.3,323.40"/>
<polyline points="69.6,299.80 71.6,299.82 73.6,299.84 75.6,299.86 77.6,299.88 79.6,299.90 81.6,299.92 83.6,299.95 85.6,299.97 87.6,299.99 89.6,300.02 91.6,300.04 93.6,300.07 95.6,300.09 97.6,300.12 99.6,300.15 101.6,300.18 103.7,300.20 105.7,300.23 107.7,300.26 109.7,300.29 111.7,300.32 113.7,300.35 115.7,300.38 117.7,300.41 119.7,300.44 121.7,300.48 123.7,300.51 125.7,300.54 127.7,300.57 129.7,300.61 131.7,300.64 133.7,300.67 135.7,300.71 137.7,300.74 139.7,300.77 141.7,300.81 143.7,300.84 145.7,300.87 147.7,300.91 149.7,300.94 151.7,300.98 153.7,301.01 155.7,301.05 157.7,301.08 159.7,301.12 161.7,301.15 163.7,301.18 165.7,301.22 167.7,301.25 169.8,301.29 171.8,301.32 173.8,301.35 175.8,301.39 177.8,301.42 179.8,301.46 181.8,301.49 183.8,301.52 185.8,301.55 187.8,301.59 189.8,301.62 191.8,301.65 193.8,301.68 195.8,301.72 197.8,301.75 199.8,301.78 201.8,301.81 203.8,301.84 205.8,301.87 207.8,301.90 209.8,301.93 211.8,301.96 213.8,301.99 215.8,302.02 217.8,302.05 219.8,302.08 221.8,302.11 223.8,302.14 225.8,302.17 227.8,302.20 229.8,302.24 231.8,302.27 233.8,302.30 235.9,302.34 237.9,302.38 239.9,302.42 241.9,302.45 243.9,302.50 245.9,302.54 247.9,302.58 249.9,302.63 251.9,302.67 253.9,302.72 255.9,302.77 257.9,302.83 259.9,302.88 261.9,302.94 263.9,302.99 265.9,303.06 267.9,303.12 269.9,303.18 271.9,303.25 273.9,303.32 275.9,303.40 277.9,303.47 279.9,303.55 281.9,303.63 283.9,303.72 285.9,303.80 287.9,303.89 289.9,303.98 291.9,304.08 293.9,304.17 295.9,304.27 297.9,304.38 299.9,304.48 302.0,304.59 304.0,304.70 306.0,304.82 308.0,304.94 310.0,305.06 312.0,305.18 314.0,305.31 316.0,305.44 318.0,305.57 320.0,305.71 322.0,305.85 324.0,305.99 326.0,306.14 328.0,306.29 330.0,306.44 332.0,306.60 334.0,306.76 336.0,306.92 338.0,307.09 340.0,307.26 342.0,307.43 344.0,307.61 346.0,307.78 348.0,307.97 350.0,308.15 352.0,308.34 354.0,308.53 356.0,308.72 358.0,308.91 360.0,309.11 362.0,309.30 364.0,309.50 366.1,309.71 368.1,309.91 370.1,310.11 372.1,310.32 374.1,310.52 376.1,310.73 378.1,310.94 380.1,311.15 382.1,311.36 384.1,311.57 386.1,311.78 388.1,312.00 390.1,312.21 392.1,312.42 394.1,312.63 396.1,312.85 398.1,313.06 400.1,313.27 402.1,313.48 404.1,313.69 406.1,313.90 408.1,314.11 410.1,314.32 412.1,314.52 414.1,314.72 416.1,314.92 418.1,315.12 420.1,315.31 422.1,315.50 424.1,315.69 426.1,315.87 428.1,316.05 430.1,316.23 432.2,316.40 434.2,316.56 436.2,316.72 438.2,316.88 440.2,317.04 442.2,317.19 444.2,317.35 446.2,317.51 448.2,317.66 450.2,317.82 452.2,317.98 454.2,318.15 456.2,318.32 458.2,318.50 460.2,318.68 462.2,318.87 464.2,319.07 466.2,319.28 468.2,319.49 470.2,319.71 472.2,319.94 474.2,320.18 476.2,320.42 478.2,320.66 480.2,320.91 482.2,321.16 484.2,321.41 486.2,321.66 488.2,321.91 490.2,322.17 492.2,322.42 494.2,322.66 496.2,322.91 498.3,323.15 500.3,323.39 502.3,323.64 504.3,323.90 506.3,324.19 508.3,324.50 510.3,324.85 512.3,325.25 514.3,325.69 516.3,326.19 518.3,326.75 520.3,327.39 522.3,328.11 524.3,328.91 526.3,329.80 528.3,330.80 530.3,331.90"/>
<polyline points="69.6,315.10 71.6,315.10 73.6,315.10 75.6,315.11 77.6,315.11 79.6,315.12 81.6,315.13 83.6,315.14 85.6,315.15 87.6,315.16 89.6,315.17 91.6,315.19 93.6,315.20 95.6,315.22 97.6,315.24 99.6,315.25 101.6,315.27 103.7,315.29 105.7,315.32 107.7,315.34 109.7,315.36 111.7,315.38 113.7,315.41 115.7,315.43 117.7,315.46 119.7,315.48 121.7,315.51 123.7,315.54 125.7,315.56 127.7,315.59 129.7,315.62 131.7,315.65 133.7,315.68 135.7,315.70 137.7,315.73 139.7,315.76 141.7,315.79 143.7,315.82 145.7,315.85 147.7,315.88 149.7,315.91 151.7,315.94 153.7,315.97 155.7,315.99 157.7,316.02 159.7,316.05 161.7,316.08 163.7,316.11 165.7,316.13 167.7,316.16 169.8,316.19 171.8,316.21 173.8,316.24 175.8,316.26 177.8,316.28 179.8,316.31 181.8,316.33 183.8,316.35 185.8,316.37 187.8,316.39 189.8,316.41 191.8,316.43 193.8,316.45 195.8,316.46 197.8,316.48 199.8,316.49 201.8,316.50 203.8,316.51 205.8,316.52 207.8,316.53 209.8,316.54 211.8,316.55 213.8,316.56 215.8,316.56 217.8,316.57 219.8,316.58 221.8,316.58 223.8,316.59 225.8,316.59 227.8,316.60 229.8,316.61 231.8,316.61 233.8,316.62 235.9,316.63 237.9,316.64 239.9,316.64 241.9,316.65 243.9,316.66 245.9,316.68 247.9,316.69 249.9,316.70 251.9,316.72 253.9,316.74 255.9,316.76 257.9,316.78 259.9,316.80 261.9,316.82 263.9,316.85 265.9,316.88 267.9,316.91 269.9,316.94 271.9,316.98 273.9,317.02 275.9,317.06 277.9,317.10 279.9,317.15 281.9,317.20 283.9,317.25 285.9,317.30 287.9,317.36 289.9,317.42 291.9,317.48 293.9,317.55 295.9,317.62 297.9,317.69 299.9,317.77 302.0,317.85 304.0,317.93 306.0,318.02 308.0,318.11 310.0,318.21 312.0,318.30 314.0,318.41 316.0,318.51 318.0,318.62 320.0,318.74 322.0,318.85 324.0,318.98 326.0,319.10 328.0,319.23 330.0,319.37 332.0,319.51 334.0,319.65 336.0,319.80 338.0,319.95 340.0,320.11 342.0,320.27 344.0,320.43 346.0,320.60 348.0,320.77 350.0,320.94 352.0,321.11 354.0,321.29 356.0,321.47 358.0,321.65 360.0,321.83 362.0,322.02 364.0,322.20 366.1,322.39 368.1,322.57 370.1,322.76 372.1,322.95 374.1,323.13 376.1,323.32 378.1,323.50 380.1,323.69 382.1,323.87 384.1,324.05 386.1,324.23 388.1,324.41 390.1,324.59 392.1,324.76 394.1,324.93 396.1,325.10 398.1,325.27 400.1,325.43 402.1,325.59 404.1,325.74 406.1,325.90 408.1,326.05 410.1,326.20 412.1,326.34 414.1,326.49 416.1,326.64 418.1,326.78 420.1,326.92 422.1,327.07 424.1,327.21 426.1,327.35 428.1,327.49 430.1,327.64 432.2,327.78 434.2,327.93 436.2,328.08 438.2,328.22 440.2,328.37 442.2,328.52 444.2,328.67 446.2,328.82 448.2,328.96 450.2,329.11 452.2,329.25 454.2,329.40 456.2,329.54 458.2,329.68 460.2,329.81 462.2,329.95 464.2,330.08 466.2,330.21 468.2,330.34 470.2,330.46 472.2,330.59 474.2,330.72 476.2,330.84 478.2,330.97 480.2,331.11 482.2,331.25 484.2,331.39 486.2,331.54 488.2,331.70 490.2,331.87 492.2,332.04 494.2,332.23 496.2,332.42 498.3,332.63 500.3,332.86 502.3,333.10 504.3,333.36 506.3,333.64 508.3,333.95 510.3,334.29 512.3,334.66 514.3,335.06 516.3,335.50 518.3,335.99 520.3,336.51 522.3,337.09 524.3,337.71 526.3,338.38 528.3,339.11 530.3,339.90"/>
<polyline points="69.6,328.90 71.6,328.90 73.6,328.90 75.6,328.90 77.6,328.91 79.6,328.91 81.6,328.92 83.6,328.93 85.6,328.94 87.6,328.96 89.6,328.97 91.6,328.99 93.6,329.00 95.6,329.02 97.6,329.04 99.6,329.07 101.6,329.09 103.7,329.11 105.7,329.14 107.7,329.16 109.7,329.19 111.7,329.22 113.7,329.25 115.7,329.28 117.7,329.31 119.7,329.34 121.7,329.37 123.7,329.40 125.7,329.44 127.7,329.47 129.7,329.50 131.7,329.54 133.7,329.57 135.7,329.61 137.7,329.64 139.7,329.67 141.7,329.71 143.7,329.74 145.7,329.78 147.7,329.81 149.7,329.85 151.7,329.88 153.7,329.92 155.7,329.95 157.7,329.98 159.7,330.02 161.7,330.05 163.7,330.08 165.7,330.11 167.7,330.14 169.8,330.17 171.8,330.20 173.8,330.23 175.8,330.26 177.8,330.28 179.8,330.31 181.8,330.33 183.8,330.36 185.8,330.38 187.8,330.40 189.8,330.42 191.8,330.44 193.8,330.45 195.8,330.47 197.8,330.48 199.8,330.49 201.8,330.50 203.8,330.51 205.8,330.52 207.8,330.52 209.8,330.53 211.8,330.53 213.8,330.53 215.8,330.53 217.8,330.53 219.8,330.53 221.8,330.53 223.8,330.53 225.8,330.52 227.8,330.52 229.8,330.52 231.8,330.51 233.8,330.51 235.9,330.50 237.9,330.50 239.9,330.49 241.9,330.49 243.9,330.49 245.9,330.48 247.9,330.48 249.9,330.48 251.9,330.48 253.9,330.48 255.9,330.48 257.9,330.48 259.9,330.48 261.9,330.48 263.9,330.49 265.9,330.49 267.9,330.50 269.9,330.51 271.9,330.52 273.9,330.54 275.9,330.55 277.9,330.57 279.9,330.59 281.9,330.61 283.9,330.63 285.9,330.66 287.9,330.68 289.9,330.71 291.9,330.75 293.9,330.78 295.9,330.82 297.9,330.86 299.9,330.90 302.0,330.95 304.0,331.00 306.0,331.05 308.0,331.11 310.0,331.16 312.0,331.23 314.0,331.29 316.0,331.36 318.0,331.43 320.0,331.51 322.0,331.58 324.0,331.67 326.0,331.75 328.0,331.84 330.0,331.94 332.0,332.03 334.0,332.14 336.0,332.24 338.0,332.35 340.0,332.47 342.0,332.58 344.0,332.70 346.0,332.83 348.0,332.95 350.0,333.08 352.0,333.21 354.0,333.35 356.0,333.49 358.0,333.63 360.0,333.77 362.0,333.91 364.0,334.05 366.1,334.20 368.1,334.34 370.1,334.49 372.1,334.64 374.1,334.79 376.1,334.94 378.1,335.09 380.1,335.24 382.1,335.39 384.1,335.54 386.1,335.69 388.1,335.84 390.1,335.99 392.1,336.14 394.1,336.28 396.1,336.43 398.1,336.57 400.1,336.71 402.1,336.85 404.1,336.99 406.1,337.13 408.1,337.27 410.1,337.40 412.1,337.53 414.1,337.66 416.1,337.79 418.1,337.92 420.1,338.04 422.1,338.17 424.1,338.29 426.1,338.41 428.1,338.53 430.1,338.65 432.2,338.77 434.2,338.88 436.2,338.99 438.2,339.11 440.2,339.22 442.2,339.32 444.2,339.43 446.2,339.53 448.2,339.64 450.2,339.74 452.2,339.84 454.2,339.93 456.2,340.03 458.2,340.12 460.2,340.21 462.2,340.30 464.2,340.39 466.2,340.47 468.2,340.55 470.2,340.64 472.2,340.72 474.2,340.80 476.2,340.88 478.2,340.96 480.2,341.05 482.2,341.13 484.2,341.22 486.2,341.31 488.2,341.41 490.2,341.51 492.2,341.62 494.2,341.73 496.2,341.85 498.3,341.98 500.3,342.12 502.3,342.26 504.3,342.43 506.3,342.61 508.3,342.81 510.3,343.04 512.3,343.30 514.3,343.59 516.3,343.91 518.3,344.27 520.3,344.67 522.3,345.12 524.3,345.61 526.3,346.15 528.3,346.75 530.3,347.40"/>
<polyline points="69.6,342.60 71.6,342.60 73.6,342.60 75.6,342.60 77.6,342.60 79.6,342.60 81.6,342.60 83.6,342.60 85.6,342.61 87.6,342.61 89.6,342.62 91.6,342.63 93.6,342.63 95.6,342.64 97.6,342.65 99.6,342.66 101.6,342.67 103.7,342.68 105.7,342.69 107.7,342.70 109.7,342.71 111.7,342.72 113.7,342.74 115.7,342.75 117.7,342.76 119.7,342.78 121.7,342.79 123.7,342.81 125.7,342.82 127.7,342.84 129.7,342.85 131.7,342.87 133.7,342.89 135.7,342.90 137.7,342.92 139.7,342.94 141.7,342.95 143.7,342.97 145.7,342.99 147.7,343.00 149.7,343.02 151.7,343.04 153.7,343.06 155.7,343.07 157.7,343.09 159.7,343.11 161.7,343.12 163.7,343.14 165.7,343.16 167.7,343.17 169.8,343.19 171.8,343.21 173.8,343.22 175.8,343.24 177.8,343.25 179.8,343.27 181.8,343.28 183.8,343.30 185.8,343.31 187.8,343.32 189.8,343.34 191.8,343.35 193.8,343.36 195.8,343.37 197.8,343.38 199.8,343.39 201.8,343.40 203.8,343.41 205.8,343.42 207.8,343.43 209.8,343.44 211.8,343.44 213.8,343.45 215.8,343.46 217.8,343.46 219.8,343.47 221.8,343.47 223.8,343.48 225.8,343.48 227.8,343.49 229.8,343.49 231.8,343.50 233.8,343.50 235.9,343.50 237.9,343.51 239.9,343.51 241.9,343.52 243.9,343.52 245.9,343.53 247.9,343.53 249.9,343.54 251.9,343.54 253.9,343.55 255.9,343.56 257.9,343.56 259.9,343.57 261.9,343.58 263.9,343.59 265.9,343.59 267.9,343.60 269.9,343.61 271.9,343.62 273.9,343.63 275.9,343.65 277.9,343.66 279.9,343.67 281.9,343.69 283.9,343.70 285.9,343.72 287.9,343.74 289.9,343.76 291.9,343.78 293.9,343.80 295.9,343.82 297.9,343.85 299.9,343.87 302.0,343.90 304.0,343.93 306.0,343.96 308.0,344.00 310.0,344.03 312.0,344.07 314.0,344.11 316.0,344.15 318.0,344.19 320.0,344.24 322.0,344.29 324.0,344.34 326.0,344.39 328.0,344.44 330.0,344.50 332.0,344.56 334.0,344.62 336.0,344.69 338.0,344.76 340.0,344.83 342.0,344.90 344.0,344.97 346.0,345.05 348.0,345.13 350.0,345.21 352.0,345.29 354.0,345.37 356.0,345.46 358.0,345.54 360.0,345.63 362.0,345.72 364.0,345.81 366.1,345.90 368.1,345.99 370.1,346.09 372.1,346.18 374.1,346.27 376.1,346.37 378.1,346.46 380.1,346.55 382.1,346.65 384.1,346.74 386.1,346.83 388.1,346.93 390.1,347.02 392.1,347.11 394.1,347.20 396.1,347.29 398.1,347.38 400.1,347.47 402.1,347.56 404.1,347.65 406.1,347.73 408.1,347.82 410.1,347.91 412.1,347.99 414.1,348.08 416.1,348.17 418.1,348.26 420.1,348.35 422.1,348.45 424.1,348.55 426.1,348.65 428.1,348.75 430.1,348.85 432.2,348.96 434.2,349.07 436.2,349.19 438.2,349.31 440.2,349.42 442.2,349.54 444.2,349.65 446.2,349.77 448.2,349.88 450.2,349.99 452.2,350.09 454.2,350.19 456.2,350.29 458.2,350.37 460.2,350.45 462.2,350.53 464.2,350.59 466.2,350.65 468.2,350.69 470.2,350.73 472.2,350.76 474.2,350.79 476.2,350.81 478.2,350.83 480.2,350.84 482.2,350.85 484.2,350.87 486.2,350.88 488.2,350.89 490.2,350.91 492.2,350.93 494.2,350.96 496.2,350.99 498.3,351.02 500.3,351.07 502.3,351.13 504.3,351.20 506.3,351.30 508.3,351.41 510.3,351.56 512.3,351.73 514.3,351.94 516.3,352.18 518.3,352.46 520.3,352.79 522.3,353.16 524.3,353.59 526.3,354.07 528.3,354.60 530.3,355.20"/>
<polyline points="69.6,355.70 71.6,355.71 73.6,355.71 75.6,355.72 77.6,355.73 79.6,355.74 81.6,355.74 83.6,355.75 85.6,355.76 87.6,355.76 89.6,355.77 91.6,355.77 93.6,355.78 95.6,355.79 97.6,355.79 99.6,355.80 101.6,355.80 103.7,355.81 105.7,355.81 107.7,355.82 109.7,355.83 111.7,355.83 113.7,355.84 115.7,355.84 117.7,355.85 119.7,355.85 121.7,355.86 123.7,355.87 125.7,355.87 127.7,355.88 129.7,355.88 131.7,355.89 133.7,355.89 135.7,355.90 137.7,355.91 139.7,355.91 141.7,355.92 143.7,355.93 145.7,355.93 147.7,355.94 149.7,355.95 151.7,355.95 153.7,355.96 155.7,355.97 157.7,355.98 159.7,355.98 161.7,355.99 163.7,356.00 165.7,356.01 167.7,356.02 169.8,356.03 171.8,356.03 173.8,356.04 175.8,356.05 177.8,356.06 179.8,356.07 181.8,356.08 183.8,356.09 185.8,356.10 187.8,356.12 189.8,356.13 191.8,356.14 193.8,356.15 195.8,356.16 197.8,356.18 199.8,356.19 201.8,356.20 203.8,356.22 205.8,356.23 207.8,356.25 209.8,356.26 211.8,356.27 213.8,356.29 215.8,356.30 217.8,356.32 219.8,356.33 221.8,356.35 223.8,356.36 225.8,356.38 227.8,356.39 229.8,356.40 231.8,356.42 233.8,356.43 235.9,356.44 237.9,356.45 239.9,356.46 241.9,356.47 243.9,356.48 245.9,356.49 247.9,356.49 249.9,356.50 251.9,356.50 253.9,356.51 255.9,356.51 257.9,356.51 259.9,356.51 261.9,356.51 263.9,356.51 265.9,356.50 267.9,356.50 269.9,356.49 271.9,356.48 273.9,356.47 275.9,356.46 277.9,356.45 279.9,356.44 281.9,356.43 283.9,356.41 285.9,356.40 287.9,356.38 289.9,356.37 291.9,356.36 293.9,356.34 295.9,356.33 297.9,356.31 299.9,356.30 302.0,356.29 304.0,356.28 306.0,356.27 308.0,356.26 310.0,356.25 312.0,356.24 314.0,356.24 316.0,356.24 318.0,356.24 320.0,356.24 322.0,356.24 324.0,356.24 326.0,356.25 328.0,356.26 330.0,356.27 332.0,356.29 334.0,356.31 336.0,356.33 338.0,356.35 340.0,356.38 342.0,356.41 344.0,356.44 346.0,356.47 348.0,356.51 350.0,356.55 352.0,356.59 354.0,356.63 356.0,356.68 358.0,356.72 360.0,356.77 362.0,356.82 364.0,356.87 366.1,356.92 368.1,356.97 370.1,357.03 372.1,357.08 374.1,357.13 376.1,357.19 378.1,357.24 380.1,357.30 382.1,357.35 384.1,357.41 386.1,357.47 388.1,357.52 390.1,357.58 392.1,357.63 394.1,357.68 396.1,357.74 398.1,357.79 400.1,357.84 402.1,357.89 404.1,357.94 406.1,357.99 408.1,358.04 410.1,358.09 412.1,358.13 414.1,358.18 416.1,358.23 418.1,358.28 420.1,358.33 422.1,358.38 424.1,358.42 426.1,358.47 428.1,358.53 430.1,358.58 432.2,358.63 434.2,358.68 436.2,358.74 438.2,358.79 440.2,358.85 442.2,358.90 444.2,358.95 446.2,359.00 448.2,359.05 450.2,359.09 452.2,359.14 454.2,359.17 456.2,359.21 458.2,359.24 460.2,359.26 462.2,359.28 464.2,359.30 466.2,359.31 468.2,359.31 470.2,359.31 472.2,359.30 474.2,359.29 476.2,359.28 478.2,359.26 480.2,359.24 482.2,359.22 484.2,359.20 486.2,359.18 488.2,359.16 490.2,359.14 492.2,359.13 494.2,359.11 496.2,359.10 498.3,359.10 500.3,359.10 502.3,359.11 504.3,359.13 506.3,359.17 508.3,359.24 510.3,359.33 512.3,359.45 514.3,359.60 516.3,359.79 518.3,360.02 520.3,360.30 522.3,360.63 524.3,361.01 526.3,361.44 528.3,361.94 530.3,362.50"/>
</g>
<g stroke="#ff0000" stroke-width="3.1" fill="none" stroke-linecap="butt">
<line x1="69.60" y1="367.50" x2="292.30" y2="195.50"/>
<line x1="200.50" y1="181.40" x2="378.90" y2="208.30"/>
</g>
<g stroke="#262626" stroke-width="1" fill="none">
<line x1="69.6" y1="367.5" x2="69.6" y2="362.70"/>
<line x1="69.6" y1="9.0" x2="69.6" y2="13.80"/>
<line x1="135.5" y1="367.5" x2="135.5" y2="362.70"/>
<line x1="135.5" y1="9.0" x2="135.5" y2="13.80"/>
<line x1="201.5" y1="367.5" x2="201.5" y2="362.70"/>
<line x1="201.5" y1="9.0" x2="201.5" y2="13.80"/>
<line x1="267.5" y1="367.5" x2="267.5" y2="362.70"/>
<line x1="267.5" y1="9.0" x2="267.5" y2="13.80"/>
<line x1="333.0" y1="367.5" x2="333.0" y2="362.70"/>
<line x1="333.0" y1="9.0" x2="333.0" y2="13.80"/>
<line x1="398.5" y1="367.5" x2="398.5" y2="362.70"/>
<line x1="398.5" y1="9.0" x2="398.5" y2="13.80"/>
<line x1="464.5" y1="367.5" x2="464.5" y2="362.70"/>
<line x1="464.5" y1="9.0" x2="464.5" y2="13.80"/>
<line x1="530.5" y1="367.5" x2="530.5" y2="362.70"/>
<line x1="530.5" y1="9.0" x2="530.5" y2="13.80"/>
<line x1="69.7" y1="367.50" x2="74.50" y2="367.50"/>
<line x1="530.5" y1="367.50" x2="525.70" y2="367.50"/>
<line x1="69.7" y1="325.32" x2="74.50" y2="325.32"/>
<line x1="530.5" y1="325.32" x2="525.70" y2="325.32"/>
<line x1="69.7" y1="283.15" x2="74.50" y2="283.15"/>
<line x1="530.5" y1="283.15" x2="525.70" y2="283.15"/>
<line x1="69.7" y1="240.97" x2="74.50" y2="240.97"/>
<line x1="530.5" y1="240.97" x2="525.70" y2="240.97"/>
<line x1="69.7" y1="198.80" x2="74.50" y2="198.80"/>
<line x1="530.5" y1="198.80" x2="525.70" y2="198.80"/>
<line x1="69.7" y1="156.62" x2="74.50" y2="156.62"/>
<line x1="530.5" y1="156.62" x2="525.70" y2="156.62"/>
<line x1="69.7" y1="114.44" x2="74.50" y2="114.44"/>
<line x1="530.5" y1="114.44" x2="525.70" y2="114.44"/>
<line x1="69.7" y1="72.27" x2="74.50" y2="72.27"/>
<line x1="530.5" y1="72.27" x2="525.70" y2="72.27"/>
<line x1="69.7" y1="30.09" x2="74.50" y2="30.09"/>
<line x1="530.5" y1="30.09" x2="525.70" y2="30.09"/>
</g>
<g stroke="#262626" fill="none">
<line x1="69.8" y1="8.6" x2="69.8" y2="367.9" stroke-width="0.78"/>
<line x1="530.5" y1="8.6" x2="530.5" y2="367.9" stroke-width="0.72"/>
<line x1="69.4" y1="9.0" x2="530.9" y2="9.0" stroke-width="0.85"/>
<line x1="69.4" y1="367.5" x2="530.9" y2="367.5" stroke-width="0.78"/>
</g>
<g font-size="14.2">
<text x="70.00" y="387.8" text-anchor="middle">0</text>
<text x="135.90" y="387.8" text-anchor="middle">20</text>
<text x="201.90" y="387.8" text-anchor="middle">40</text>
<text x="267.90" y="387.8" text-anchor="middle">60</text>
<text x="333.40" y="387.8" text-anchor="middle">80</text>
<text x="398.90" y="387.8" text-anchor="middle">100</text>
<text x="464.90" y="387.8" text-anchor="middle">120</text>
<text x="530.90" y="387.8" text-anchor="middle">140</text>
<text x="63.7" y="373.10" text-anchor="end">0</text>
<text x="63.7" y="330.92" text-anchor="end">100</text>
<text x="63.7" y="288.75" text-anchor="end">200</text>
<text x="63.7" y="246.57" text-anchor="end">300</text>
<text x="63.7" y="204.40" text-anchor="end">400</text>
<text x="63.7" y="162.22" text-anchor="end">500</text>
<text x="63.7" y="120.04" text-anchor="end">600</text>
<text x="63.7" y="77.87" text-anchor="end">700</text>
<text x="63.7" y="35.69" text-anchor="end">800</text>
</g>
<text x="292.30" y="215.80" text-anchor="middle" font-size="39" stroke="#000" stroke-width="1" style="fill:#000">*</text>
<text x="233.6" y="178.7" font-size="25" style="fill:#000">k2</text>
<text x="222.1" y="278.5" font-size="25" style="fill:#000">k1</text>
<g font-size="16.4">
<text x="261.8" y="409.6">n</text>
<text x="271.4" y="417.7" font-size="13.7">11</text>
<text x="291.3" y="409.6">[r/min]</text>
<g transform="rotate(-90)">
<text x="-226.7" y="24.2">Q</text>
<text x="-214.2" y="32.6" font-size="13.7">11</text>
<text x="-192.5" y="24.2">[m</text>
<text x="-175.9" y="17.0" font-size="13.7">3</text>
<text x="-167.0" y="24.2">/s]</text>
</g>
</g>
</svg>
</body></html>
